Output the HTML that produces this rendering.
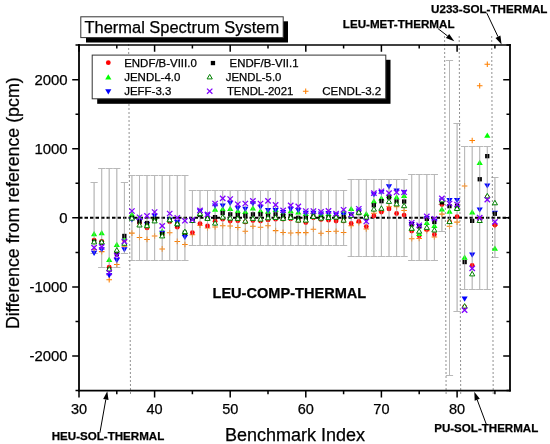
<!DOCTYPE html>
<html><head><meta charset="utf-8"><title>Thermal Spectrum System</title>
<style>html,body{margin:0;padding:0;background:#fff}body{width:550px;height:444px;overflow:hidden}svg{display:block}text{font-family:"Liberation Sans",sans-serif;fill:#000;stroke:#000;stroke-width:0.25px}</style></head><body>
<svg width="550" height="444" viewBox="0 0 550 444">
<rect width="550" height="444" fill="#fff"/>
<g stroke="#b8b8b8" stroke-width="1" fill="none">
<path d="M94.1 182.5V253.5M90.5 182.5H97.7M90.5 253.5H97.7"/>
<path d="M101.7 168.5V267.5M98.1 168.5H105.3M98.1 267.5H105.3"/>
<path d="M109.2 168.5V267.5M105.6 168.5H112.8M105.6 267.5H112.8"/>
<path d="M116.8 168.5V267.5M113.2 168.5H120.4M113.2 267.5H120.4"/>
<path d="M124.4 182.5V253.5M120.8 182.5H128.0M120.8 253.5H128.0"/>
<path d="M131.9 175.5V260.5M128.3 175.5H135.5M128.3 260.5H135.5"/>
<path d="M139.5 175.5V260.5M135.9 175.5H143.1M135.9 260.5H143.1"/>
<path d="M147.0 175.5V260.5M143.4 175.5H150.6M143.4 260.5H150.6"/>
<path d="M154.6 175.5V260.5M151.0 175.5H158.2M151.0 260.5H158.2"/>
<path d="M162.2 175.5V260.5M158.6 175.5H165.8M158.6 260.5H165.8"/>
<path d="M169.7 175.5V260.5M166.1 175.5H173.3M166.1 260.5H173.3"/>
<path d="M177.3 175.5V260.5M173.7 175.5H180.9M173.7 260.5H180.9"/>
<path d="M184.9 175.5V260.5M181.3 175.5H188.5M181.3 260.5H188.5"/>
<path d="M192.4 190.5V245.5M188.8 190.5H196.0M188.8 245.5H196.0"/>
<path d="M200.0 190.5V245.5M196.4 190.5H203.6M196.4 245.5H203.6"/>
<path d="M207.5 190.5V245.5M203.9 190.5H211.1M203.9 245.5H211.1"/>
<path d="M215.1 190.5V245.5M211.5 190.5H218.7M211.5 245.5H218.7"/>
<path d="M222.7 190.5V245.5M219.1 190.5H226.3M219.1 245.5H226.3"/>
<path d="M230.2 190.5V245.5M226.6 190.5H233.8M226.6 245.5H233.8"/>
<path d="M237.8 190.5V245.5M234.2 190.5H241.4M234.2 245.5H241.4"/>
<path d="M245.3 190.5V245.5M241.7 190.5H248.9M241.7 245.5H248.9"/>
<path d="M252.9 190.5V245.5M249.3 190.5H256.5M249.3 245.5H256.5"/>
<path d="M260.5 190.5V245.5M256.9 190.5H264.1M256.9 245.5H264.1"/>
<path d="M268.0 190.5V245.5M264.4 190.5H271.6M264.4 245.5H271.6"/>
<path d="M275.6 190.5V245.5M272.0 190.5H279.2M272.0 245.5H279.2"/>
<path d="M283.1 190.5V245.5M279.5 190.5H286.7M279.5 245.5H286.7"/>
<path d="M290.7 190.5V245.5M287.1 190.5H294.3M287.1 245.5H294.3"/>
<path d="M298.3 190.5V245.5M294.7 190.5H301.9M294.7 245.5H301.9"/>
<path d="M305.8 190.5V245.5M302.2 190.5H309.4M302.2 245.5H309.4"/>
<path d="M313.4 190.5V245.5M309.8 190.5H317.0M309.8 245.5H317.0"/>
<path d="M321.0 190.5V245.5M317.4 190.5H324.6M317.4 245.5H324.6"/>
<path d="M328.5 190.5V245.5M324.9 190.5H332.1M324.9 245.5H332.1"/>
<path d="M336.1 190.5V245.5M332.5 190.5H339.7M332.5 245.5H339.7"/>
<path d="M343.6 190.5V245.5M340.0 190.5H347.2M340.0 245.5H347.2"/>
<path d="M351.2 179.5V256.5M347.6 179.5H354.8M347.6 256.5H354.8"/>
<path d="M358.8 179.5V256.5M355.2 179.5H362.4M355.2 256.5H362.4"/>
<path d="M366.3 179.5V256.5M362.7 179.5H369.9M362.7 256.5H369.9"/>
<path d="M373.9 179.5V256.5M370.3 179.5H377.5M370.3 256.5H377.5"/>
<path d="M381.4 179.5V256.5M377.8 179.5H385.0M377.8 256.5H385.0"/>
<path d="M389.0 179.5V256.5M385.4 179.5H392.6M385.4 256.5H392.6"/>
<path d="M396.6 179.5V256.5M393.0 179.5H400.2M393.0 256.5H400.2"/>
<path d="M404.1 179.5V256.5M400.5 179.5H407.7M400.5 256.5H407.7"/>
<path d="M411.7 174.5V260.5M408.1 174.5H415.3M408.1 260.5H415.3"/>
<path d="M419.2 174.5V260.5M415.6 174.5H422.8M415.6 260.5H422.8"/>
<path d="M426.8 174.5V260.5M423.2 174.5H430.4M423.2 260.5H430.4"/>
<path d="M434.4 174.5V260.5M430.8 174.5H438.0M430.8 260.5H438.0"/>
<path d="M441.9 204.5V231.5M438.3 204.5H445.5M438.3 231.5H445.5"/>
<path d="M449.5 60.5V375.5M445.9 60.5H453.1M445.9 375.5H453.1"/>
<path d="M457.1 123.5V311.5M453.4 123.5H460.7M453.4 311.5H460.7"/>
<path d="M464.6 146.5V289.5M461.0 146.5H468.2M461.0 289.5H468.2"/>
<path d="M472.2 146.5V289.5M468.6 146.5H475.8M468.6 289.5H475.8"/>
<path d="M479.7 146.5V289.5M476.1 146.5H483.3M476.1 289.5H483.3"/>
<path d="M487.3 146.5V289.5M483.7 146.5H490.9M483.7 289.5H490.9"/>
<path d="M494.9 177.5V257.5M491.3 177.5H498.5M491.3 257.5H498.5"/>
</g>
<g stroke="#909090" stroke-width="1" stroke-dasharray="2 2" fill="none">
<line x1="128.6" y1="36" x2="130.5" y2="394"/>
<line x1="444.6" y1="36" x2="446.1" y2="394"/>
<line x1="459.2" y1="36" x2="460.7" y2="394"/>
<line x1="491.7" y1="36" x2="493.2" y2="394"/>
</g>
<line x1="79.0" y1="217.85" x2="510.0" y2="217.85" stroke="#000" stroke-width="2" stroke-dasharray="3.5 2"/>
<g>
<path d="M91.3 249.4H96.9M94.1 246.6V252.2" stroke="#ff8000" stroke-width="1.05" fill="none"/>
<path d="M98.9 251.6H104.5M101.7 248.8V254.4" stroke="#ff8000" stroke-width="1.05" fill="none"/>
<path d="M106.4 279.7H112.0M109.2 276.9V282.5" stroke="#ff8000" stroke-width="1.05" fill="none"/>
<path d="M114.0 264.4H119.6M116.8 261.6V267.2" stroke="#ff8000" stroke-width="1.05" fill="none"/>
<path d="M121.6 246.8H127.2M124.4 244.0V249.6" stroke="#ff8000" stroke-width="1.05" fill="none"/>
<path d="M129.1 233.1H134.7M131.9 230.3V235.9" stroke="#ff8000" stroke-width="1.05" fill="none"/>
<path d="M136.7 237.4H142.3M139.5 234.6V240.2" stroke="#ff8000" stroke-width="1.05" fill="none"/>
<path d="M144.2 239.4H149.8M147.0 236.6V242.2" stroke="#ff8000" stroke-width="1.05" fill="none"/>
<path d="M151.8 236.0H157.4M154.6 233.2V238.8" stroke="#ff8000" stroke-width="1.05" fill="none"/>
<path d="M159.4 248.9H165.0M162.2 246.1V251.7" stroke="#ff8000" stroke-width="1.05" fill="none"/>
<path d="M166.9 232.7H172.5M169.7 229.9V235.5" stroke="#ff8000" stroke-width="1.05" fill="none"/>
<path d="M174.5 241.4H180.1M177.3 238.6V244.2" stroke="#ff8000" stroke-width="1.05" fill="none"/>
<path d="M182.1 244.5H187.7M184.9 241.7V247.3" stroke="#ff8000" stroke-width="1.05" fill="none"/>
<path d="M189.6 234.7H195.2M192.4 231.9V237.5" stroke="#ff8000" stroke-width="1.05" fill="none"/>
<path d="M197.2 225.2H202.8M200.0 222.4V228.0" stroke="#ff8000" stroke-width="1.05" fill="none"/>
<path d="M204.7 227.9H210.3M207.5 225.1V230.7" stroke="#ff8000" stroke-width="1.05" fill="none"/>
<path d="M212.3 227.0H217.9M215.1 224.2V229.8" stroke="#ff8000" stroke-width="1.05" fill="none"/>
<path d="M219.9 225.7H225.5M222.7 222.9V228.5" stroke="#ff8000" stroke-width="1.05" fill="none"/>
<path d="M227.4 225.9H233.0M230.2 223.1V228.7" stroke="#ff8000" stroke-width="1.05" fill="none"/>
<path d="M235.0 227.5H240.6M237.8 224.7V230.3" stroke="#ff8000" stroke-width="1.05" fill="none"/>
<path d="M242.5 231.3H248.1M245.3 228.5V234.1" stroke="#ff8000" stroke-width="1.05" fill="none"/>
<path d="M250.1 226.3H255.7M252.9 223.5V229.1" stroke="#ff8000" stroke-width="1.05" fill="none"/>
<path d="M257.7 227.2H263.3M260.5 224.4V230.0" stroke="#ff8000" stroke-width="1.05" fill="none"/>
<path d="M265.2 225.7H270.8M268.0 222.9V228.5" stroke="#ff8000" stroke-width="1.05" fill="none"/>
<path d="M272.8 230.6H278.4M275.6 227.8V233.4" stroke="#ff8000" stroke-width="1.05" fill="none"/>
<path d="M280.3 232.4H285.9M283.1 229.6V235.2" stroke="#ff8000" stroke-width="1.05" fill="none"/>
<path d="M287.9 232.9H293.5M290.7 230.1V235.7" stroke="#ff8000" stroke-width="1.05" fill="none"/>
<path d="M295.5 232.6H301.1M298.3 229.8V235.4" stroke="#ff8000" stroke-width="1.05" fill="none"/>
<path d="M303.0 232.6H308.6M305.8 229.8V235.4" stroke="#ff8000" stroke-width="1.05" fill="none"/>
<path d="M310.6 229.3H316.2M313.4 226.5V232.1" stroke="#ff8000" stroke-width="1.05" fill="none"/>
<path d="M318.2 233.3H323.8M321.0 230.5V236.1" stroke="#ff8000" stroke-width="1.05" fill="none"/>
<path d="M325.7 231.5H331.3M328.5 228.7V234.3" stroke="#ff8000" stroke-width="1.05" fill="none"/>
<path d="M333.3 231.3H338.9M336.1 228.5V234.1" stroke="#ff8000" stroke-width="1.05" fill="none"/>
<path d="M340.8 232.4H346.4M343.6 229.6V235.2" stroke="#ff8000" stroke-width="1.05" fill="none"/>
<path d="M348.4 225.7H354.0M351.2 222.9V228.5" stroke="#ff8000" stroke-width="1.05" fill="none"/>
<path d="M356.0 222.6H361.6M358.8 219.8V225.4" stroke="#ff8000" stroke-width="1.05" fill="none"/>
<path d="M363.5 228.9H369.1M366.3 226.1V231.7" stroke="#ff8000" stroke-width="1.05" fill="none"/>
<path d="M371.1 213.2H376.7M373.9 210.4V216.0" stroke="#ff8000" stroke-width="1.05" fill="none"/>
<path d="M378.6 211.6H384.2M381.4 208.8V214.4" stroke="#ff8000" stroke-width="1.05" fill="none"/>
<path d="M386.2 206.7H391.8M389.0 203.9V209.5" stroke="#ff8000" stroke-width="1.05" fill="none"/>
<path d="M393.8 206.7H399.4M396.6 203.9V209.5" stroke="#ff8000" stroke-width="1.05" fill="none"/>
<path d="M401.3 210.5H406.9M404.1 207.7V213.3" stroke="#ff8000" stroke-width="1.05" fill="none"/>
<path d="M408.9 238.8H414.5M411.7 236.0V241.6" stroke="#ff8000" stroke-width="1.05" fill="none"/>
<path d="M416.4 238.4H422.0M419.2 235.6V241.2" stroke="#ff8000" stroke-width="1.05" fill="none"/>
<path d="M424.0 230.6H429.6M426.8 227.8V233.4" stroke="#ff8000" stroke-width="1.05" fill="none"/>
<path d="M431.6 237.0H437.2M434.4 234.2V239.8" stroke="#ff8000" stroke-width="1.05" fill="none"/>
<path d="M439.1 214.1H444.7M441.9 211.3V216.9" stroke="#ff8000" stroke-width="1.05" fill="none"/>
<path d="M446.7 226.3H452.3M449.5 223.5V229.1" stroke="#ff8000" stroke-width="1.05" fill="none"/>
<path d="M454.2 222.1H459.9M457.1 219.3V224.9" stroke="#ff8000" stroke-width="1.05" fill="none"/>
<path d="M461.8 185.9H467.4M464.6 183.1V188.7" stroke="#ff8000" stroke-width="1.05" fill="none"/>
<path d="M469.4 140.5H475.0M472.2 137.7V143.3" stroke="#ff8000" stroke-width="1.05" fill="none"/>
<path d="M476.9 85.7H482.5M479.7 82.9V88.5" stroke="#ff8000" stroke-width="1.05" fill="none"/>
<path d="M484.5 64.2H490.1M487.3 61.4V67.0" stroke="#ff8000" stroke-width="1.05" fill="none"/>
<path d="M492.1 225.5H497.7M494.9 222.7V228.3" stroke="#ff8000" stroke-width="1.05" fill="none"/>
</g>
<g>
<circle cx="94.1" cy="240.1" r="2.4" fill="#f00"/>
<circle cx="101.7" cy="241.3" r="2.4" fill="#f00"/>
<circle cx="109.2" cy="267.1" r="2.4" fill="#f00"/>
<circle cx="116.8" cy="252.9" r="2.4" fill="#f00"/>
<circle cx="124.4" cy="240.0" r="2.4" fill="#f00"/>
<circle cx="131.9" cy="217.5" r="2.4" fill="#f00"/>
<circle cx="139.5" cy="223.0" r="2.4" fill="#f00"/>
<circle cx="147.0" cy="227.9" r="2.4" fill="#f00"/>
<circle cx="154.6" cy="219.6" r="2.4" fill="#f00"/>
<circle cx="162.2" cy="234.8" r="2.4" fill="#f00"/>
<circle cx="169.7" cy="221.7" r="2.4" fill="#f00"/>
<circle cx="177.3" cy="227.2" r="2.4" fill="#f00"/>
<circle cx="184.9" cy="234.1" r="2.4" fill="#f00"/>
<circle cx="192.4" cy="232.6" r="2.4" fill="#f00"/>
<circle cx="200.0" cy="223.6" r="2.4" fill="#f00"/>
<circle cx="207.5" cy="225.9" r="2.4" fill="#f00"/>
<circle cx="215.1" cy="221.2" r="2.4" fill="#f00"/>
<circle cx="222.7" cy="219.2" r="2.4" fill="#f00"/>
<circle cx="230.2" cy="221.0" r="2.4" fill="#f00"/>
<circle cx="237.8" cy="220.8" r="2.4" fill="#f00"/>
<circle cx="245.3" cy="222.0" r="2.4" fill="#f00"/>
<circle cx="252.9" cy="220.6" r="2.4" fill="#f00"/>
<circle cx="260.5" cy="221.0" r="2.4" fill="#f00"/>
<circle cx="268.0" cy="219.9" r="2.4" fill="#f00"/>
<circle cx="275.6" cy="219.2" r="2.4" fill="#f00"/>
<circle cx="283.1" cy="219.2" r="2.4" fill="#f00"/>
<circle cx="290.7" cy="218.9" r="2.4" fill="#f00"/>
<circle cx="298.3" cy="220.6" r="2.4" fill="#f00"/>
<circle cx="305.8" cy="222.5" r="2.4" fill="#f00"/>
<circle cx="313.4" cy="217.8" r="2.4" fill="#f00"/>
<circle cx="321.0" cy="219.6" r="2.4" fill="#f00"/>
<circle cx="328.5" cy="220.2" r="2.4" fill="#f00"/>
<circle cx="336.1" cy="221.0" r="2.4" fill="#f00"/>
<circle cx="343.6" cy="221.0" r="2.4" fill="#f00"/>
<circle cx="351.2" cy="223.4" r="2.4" fill="#f00"/>
<circle cx="358.8" cy="221.3" r="2.4" fill="#f00"/>
<circle cx="366.3" cy="226.6" r="2.4" fill="#f00"/>
<circle cx="373.9" cy="216.0" r="2.4" fill="#f00"/>
<circle cx="381.4" cy="212.0" r="2.4" fill="#f00"/>
<circle cx="389.0" cy="208.9" r="2.4" fill="#f00"/>
<circle cx="396.6" cy="213.5" r="2.4" fill="#f00"/>
<circle cx="404.1" cy="215.1" r="2.4" fill="#f00"/>
<circle cx="411.7" cy="231.0" r="2.4" fill="#f00"/>
<circle cx="419.2" cy="235.8" r="2.4" fill="#f00"/>
<circle cx="426.8" cy="229.6" r="2.4" fill="#f00"/>
<circle cx="434.4" cy="234.4" r="2.4" fill="#f00"/>
<circle cx="441.9" cy="204.6" r="2.4" fill="#f00"/>
<circle cx="449.5" cy="221.7" r="2.4" fill="#f00"/>
<circle cx="457.1" cy="216.6" r="2.4" fill="#f00"/>
<circle cx="464.6" cy="306.8" r="2.4" fill="#f00"/>
<circle cx="472.2" cy="265.4" r="2.4" fill="#f00"/>
<circle cx="479.7" cy="219.2" r="2.4" fill="#f00"/>
<circle cx="487.3" cy="197.1" r="2.4" fill="#f00"/>
<circle cx="494.9" cy="225.1" r="2.4" fill="#f00"/>
</g>
<g>
<path d="M94.1 231.0L97.2 236.2H91.0Z" fill="#0f0"/>
<path d="M101.7 230.1L104.8 235.3H98.6Z" fill="#0f0"/>
<path d="M109.2 256.7L112.3 261.9H106.1Z" fill="#0f0"/>
<path d="M116.8 241.8L119.9 247.0H113.7Z" fill="#0f0"/>
<path d="M124.4 235.0L127.5 240.2H121.3Z" fill="#0f0"/>
<path d="M131.9 211.4L135.0 216.6H128.8Z" fill="#0f0"/>
<path d="M139.5 214.2L142.6 219.4H136.4Z" fill="#0f0"/>
<path d="M147.0 221.4L150.1 226.6H143.9Z" fill="#0f0"/>
<path d="M154.6 214.5L157.7 219.7H151.5Z" fill="#0f0"/>
<path d="M162.2 228.3L165.3 233.5H159.1Z" fill="#0f0"/>
<path d="M169.7 216.9L172.8 222.1H166.6Z" fill="#0f0"/>
<path d="M177.3 220.0L180.4 225.2H174.2Z" fill="#0f0"/>
<path d="M184.9 230.4L188.0 235.6H181.8Z" fill="#0f0"/>
<path d="M192.4 217.6L195.5 222.8H189.3Z" fill="#0f0"/>
<path d="M200.0 210.7L203.1 215.9H196.9Z" fill="#0f0"/>
<path d="M207.5 214.8L210.6 220.0H204.4Z" fill="#0f0"/>
<path d="M215.1 206.6L218.2 211.8H212.0Z" fill="#0f0"/>
<path d="M222.7 206.0L225.8 211.2H219.6Z" fill="#0f0"/>
<path d="M230.2 205.7L233.3 210.9H227.1Z" fill="#0f0"/>
<path d="M237.8 208.0L240.9 213.2H234.7Z" fill="#0f0"/>
<path d="M245.3 208.7L248.4 213.9H242.2Z" fill="#0f0"/>
<path d="M252.9 205.3L256.0 210.5H249.8Z" fill="#0f0"/>
<path d="M260.5 208.0L263.6 213.2H257.4Z" fill="#0f0"/>
<path d="M268.0 208.6L271.1 213.8H264.9Z" fill="#0f0"/>
<path d="M275.6 206.9L278.7 212.1H272.5Z" fill="#0f0"/>
<path d="M283.1 210.0L286.2 215.2H280.0Z" fill="#0f0"/>
<path d="M290.7 208.0L293.8 213.2H287.6Z" fill="#0f0"/>
<path d="M298.3 209.3L301.4 214.5H295.2Z" fill="#0f0"/>
<path d="M305.8 210.7L308.9 215.9H302.7Z" fill="#0f0"/>
<path d="M313.4 208.7L316.5 213.9H310.3Z" fill="#0f0"/>
<path d="M321.0 211.4L324.1 216.6H317.9Z" fill="#0f0"/>
<path d="M328.5 210.7L331.6 215.9H325.4Z" fill="#0f0"/>
<path d="M336.1 212.1L339.2 217.3H333.0Z" fill="#0f0"/>
<path d="M343.6 209.3L346.7 214.5H340.5Z" fill="#0f0"/>
<path d="M351.2 205.9L354.3 211.1H348.1Z" fill="#0f0"/>
<path d="M358.8 209.3L361.9 214.5H355.7Z" fill="#0f0"/>
<path d="M366.3 210.9L369.4 216.1H363.2Z" fill="#0f0"/>
<path d="M373.9 198.3L377.0 203.5H370.8Z" fill="#0f0"/>
<path d="M381.4 195.2L384.5 200.4H378.3Z" fill="#0f0"/>
<path d="M389.0 192.7L392.1 197.9H385.9Z" fill="#0f0"/>
<path d="M396.6 194.3L399.7 199.5H393.5Z" fill="#0f0"/>
<path d="M404.1 192.7L407.2 197.9H401.0Z" fill="#0f0"/>
<path d="M411.7 225.2L414.8 230.4H408.6Z" fill="#0f0"/>
<path d="M419.2 230.8L422.3 236.0H416.1Z" fill="#0f0"/>
<path d="M426.8 219.8L429.9 225.0H423.7Z" fill="#0f0"/>
<path d="M434.4 222.8L437.5 228.0H431.3Z" fill="#0f0"/>
<path d="M441.9 206.4L445.0 211.6H438.8Z" fill="#0f0"/>
<path d="M449.5 208.6L452.6 213.8H446.4Z" fill="#0f0"/>
<path d="M457.1 204.5L460.2 209.7H453.9Z" fill="#0f0"/>
<path d="M464.6 254.5L467.7 259.7H461.5Z" fill="#0f0"/>
<path d="M472.2 209.3L475.3 214.5H469.1Z" fill="#0f0"/>
<path d="M479.7 159.8L482.8 165.0H476.6Z" fill="#0f0"/>
<path d="M487.3 132.6L490.4 137.8H484.2Z" fill="#0f0"/>
<path d="M494.9 245.5L498.0 250.7H491.8Z" fill="#0f0"/>
</g>
<g>
<path d="M94.1 255.9L97.2 250.7H91.0Z" fill="#00f"/>
<path d="M101.7 252.5L104.8 247.3H98.6Z" fill="#00f"/>
<path d="M109.2 278.2L112.3 273.0H106.1Z" fill="#00f"/>
<path d="M116.8 263.3L119.9 258.1H113.7Z" fill="#00f"/>
<path d="M124.4 252.5L127.5 247.3H121.3Z" fill="#00f"/>
<path d="M131.9 222.6L135.0 217.4H128.8Z" fill="#00f"/>
<path d="M139.5 224.3L142.6 219.1H136.4Z" fill="#00f"/>
<path d="M147.0 227.1L150.1 221.9H143.9Z" fill="#00f"/>
<path d="M154.6 218.8L157.7 213.6H151.5Z" fill="#00f"/>
<path d="M162.2 236.0L165.3 230.8H159.1Z" fill="#00f"/>
<path d="M169.7 222.6L172.8 217.4H166.6Z" fill="#00f"/>
<path d="M177.3 225.3L180.4 220.1H174.2Z" fill="#00f"/>
<path d="M184.9 240.1L188.0 234.9H181.8Z" fill="#00f"/>
<path d="M192.4 223.6L195.5 218.4H189.3Z" fill="#00f"/>
<path d="M200.0 213.9L203.1 208.7H196.9Z" fill="#00f"/>
<path d="M207.5 217.7L210.6 212.5H204.4Z" fill="#00f"/>
<path d="M215.1 208.6L218.2 203.4H212.0Z" fill="#00f"/>
<path d="M222.7 208.6L225.8 203.4H219.6Z" fill="#00f"/>
<path d="M230.2 205.9L233.3 200.7H227.1Z" fill="#00f"/>
<path d="M237.8 211.3L240.9 206.1H234.7Z" fill="#00f"/>
<path d="M245.3 212.0L248.4 206.8H242.2Z" fill="#00f"/>
<path d="M252.9 206.5L256.0 201.3H249.8Z" fill="#00f"/>
<path d="M260.5 209.9L263.6 204.7H257.4Z" fill="#00f"/>
<path d="M268.0 213.3L271.1 208.1H264.9Z" fill="#00f"/>
<path d="M275.6 213.3L278.7 208.1H272.5Z" fill="#00f"/>
<path d="M283.1 215.3L286.2 210.1H280.0Z" fill="#00f"/>
<path d="M290.7 212.0L293.8 206.8H287.6Z" fill="#00f"/>
<path d="M298.3 213.3L301.4 208.1H295.2Z" fill="#00f"/>
<path d="M305.8 216.0L308.9 210.8H302.7Z" fill="#00f"/>
<path d="M313.4 216.0L316.5 210.8H310.3Z" fill="#00f"/>
<path d="M321.0 216.7L324.1 211.5H317.9Z" fill="#00f"/>
<path d="M328.5 216.1L331.6 210.9H325.4Z" fill="#00f"/>
<path d="M336.1 217.7L339.2 212.5H333.0Z" fill="#00f"/>
<path d="M343.6 217.7L346.7 212.5H340.5Z" fill="#00f"/>
<path d="M351.2 217.4L354.3 212.2H348.1Z" fill="#00f"/>
<path d="M358.8 213.8L361.9 208.6H355.7Z" fill="#00f"/>
<path d="M366.3 222.9L369.4 217.7H363.2Z" fill="#00f"/>
<path d="M373.9 197.4L377.0 192.2H370.8Z" fill="#00f"/>
<path d="M381.4 195.3L384.5 190.1H378.3Z" fill="#00f"/>
<path d="M389.0 189.4L392.1 184.2H385.9Z" fill="#00f"/>
<path d="M396.6 193.6L399.7 188.4H393.5Z" fill="#00f"/>
<path d="M404.1 195.3L407.2 190.1H401.0Z" fill="#00f"/>
<path d="M411.7 227.2L414.8 222.0H408.6Z" fill="#00f"/>
<path d="M419.2 229.1L422.3 223.9H416.1Z" fill="#00f"/>
<path d="M426.8 221.4L429.9 216.2H423.7Z" fill="#00f"/>
<path d="M434.4 224.3L437.5 219.1H431.3Z" fill="#00f"/>
<path d="M441.9 203.6L445.0 198.4H438.8Z" fill="#00f"/>
<path d="M449.5 203.2L452.6 198.0H446.4Z" fill="#00f"/>
<path d="M457.1 203.2L460.2 198.0H453.9Z" fill="#00f"/>
<path d="M464.6 301.8L467.7 296.6H461.5Z" fill="#00f"/>
<path d="M472.2 257.8L475.3 252.6H469.1Z" fill="#00f"/>
<path d="M479.7 212.6L482.8 207.4H476.6Z" fill="#00f"/>
<path d="M487.3 188.6L490.4 183.4H484.2Z" fill="#00f"/>
<path d="M494.9 215.9L498.0 210.7H491.8Z" fill="#00f"/>
</g>
<g>
<rect x="92.0" y="239.5" width="4.3" height="4.3" fill="#000"/>
<rect x="99.5" y="240.6" width="4.3" height="4.3" fill="#000"/>
<rect x="107.1" y="267.5" width="4.3" height="4.3" fill="#000"/>
<rect x="114.7" y="251.6" width="4.3" height="4.3" fill="#000"/>
<rect x="122.2" y="233.8" width="4.3" height="4.3" fill="#000"/>
<rect x="129.8" y="215.7" width="4.3" height="4.3" fill="#000"/>
<rect x="137.3" y="219.5" width="4.3" height="4.3" fill="#000"/>
<rect x="144.9" y="220.9" width="4.3" height="4.3" fill="#000"/>
<rect x="152.5" y="216.7" width="4.3" height="4.3" fill="#000"/>
<rect x="160.0" y="231.9" width="4.3" height="4.3" fill="#000"/>
<rect x="167.6" y="218.1" width="4.3" height="4.3" fill="#000"/>
<rect x="175.1" y="222.3" width="4.3" height="4.3" fill="#000"/>
<rect x="182.7" y="230.6" width="4.3" height="4.3" fill="#000"/>
<rect x="190.3" y="217.8" width="4.3" height="4.3" fill="#000"/>
<rect x="197.8" y="212.9" width="4.3" height="4.3" fill="#000"/>
<rect x="205.4" y="216.4" width="4.3" height="4.3" fill="#000"/>
<rect x="212.9" y="215.0" width="4.3" height="4.3" fill="#000"/>
<rect x="220.5" y="210.9" width="4.3" height="4.3" fill="#000"/>
<rect x="228.1" y="212.2" width="4.3" height="4.3" fill="#000"/>
<rect x="235.6" y="212.9" width="4.3" height="4.3" fill="#000"/>
<rect x="243.2" y="213.6" width="4.3" height="4.3" fill="#000"/>
<rect x="250.8" y="212.2" width="4.3" height="4.3" fill="#000"/>
<rect x="258.3" y="212.2" width="4.3" height="4.3" fill="#000"/>
<rect x="265.9" y="213.6" width="4.3" height="4.3" fill="#000"/>
<rect x="273.4" y="212.2" width="4.3" height="4.3" fill="#000"/>
<rect x="281.0" y="213.6" width="4.3" height="4.3" fill="#000"/>
<rect x="288.6" y="213.6" width="4.3" height="4.3" fill="#000"/>
<rect x="296.1" y="215.7" width="4.3" height="4.3" fill="#000"/>
<rect x="303.7" y="215.7" width="4.3" height="4.3" fill="#000"/>
<rect x="311.2" y="214.3" width="4.3" height="4.3" fill="#000"/>
<rect x="318.8" y="215.7" width="4.3" height="4.3" fill="#000"/>
<rect x="326.4" y="215.4" width="4.3" height="4.3" fill="#000"/>
<rect x="333.9" y="215.0" width="4.3" height="4.3" fill="#000"/>
<rect x="341.5" y="215.0" width="4.3" height="4.3" fill="#000"/>
<rect x="349.0" y="213.6" width="4.3" height="4.3" fill="#000"/>
<rect x="356.6" y="210.9" width="4.3" height="4.3" fill="#000"/>
<rect x="364.2" y="215.7" width="4.3" height="4.3" fill="#000"/>
<rect x="371.7" y="203.1" width="4.3" height="4.3" fill="#000"/>
<rect x="379.3" y="199.0" width="4.3" height="4.3" fill="#000"/>
<rect x="386.9" y="195.2" width="4.3" height="4.3" fill="#000"/>
<rect x="394.4" y="199.4" width="4.3" height="4.3" fill="#000"/>
<rect x="402.0" y="199.4" width="4.3" height="4.3" fill="#000"/>
<rect x="409.5" y="222.3" width="4.3" height="4.3" fill="#000"/>
<rect x="417.1" y="224.3" width="4.3" height="4.3" fill="#000"/>
<rect x="424.7" y="216.7" width="4.3" height="4.3" fill="#000"/>
<rect x="432.2" y="219.8" width="4.3" height="4.3" fill="#000"/>
<rect x="439.8" y="200.2" width="4.3" height="4.3" fill="#000"/>
<rect x="447.3" y="204.0" width="4.3" height="4.3" fill="#000"/>
<rect x="454.9" y="203.6" width="4.3" height="4.3" fill="#000"/>
<rect x="462.5" y="259.9" width="4.3" height="4.3" fill="#000"/>
<rect x="470.0" y="218.7" width="4.3" height="4.3" fill="#000"/>
<rect x="477.6" y="177.1" width="4.3" height="4.3" fill="#000"/>
<rect x="485.1" y="154.0" width="4.3" height="4.3" fill="#000"/>
<rect x="492.7" y="211.6" width="4.3" height="4.3" fill="#000"/>
</g>
<g stroke="#b8b8b8" stroke-width="1" opacity="0.55">
<path d="M94.1 182.5V253.5"/>
<path d="M101.7 168.5V267.5"/>
<path d="M109.2 168.5V267.5"/>
<path d="M116.8 168.5V267.5"/>
<path d="M124.4 182.5V253.5"/>
<path d="M131.9 175.5V260.5"/>
<path d="M139.5 175.5V260.5"/>
<path d="M147.0 175.5V260.5"/>
<path d="M154.6 175.5V260.5"/>
<path d="M162.2 175.5V260.5"/>
<path d="M169.7 175.5V260.5"/>
<path d="M177.3 175.5V260.5"/>
<path d="M184.9 175.5V260.5"/>
<path d="M192.4 190.5V245.5"/>
<path d="M200.0 190.5V245.5"/>
<path d="M207.5 190.5V245.5"/>
<path d="M215.1 190.5V245.5"/>
<path d="M222.7 190.5V245.5"/>
<path d="M230.2 190.5V245.5"/>
<path d="M237.8 190.5V245.5"/>
<path d="M245.3 190.5V245.5"/>
<path d="M252.9 190.5V245.5"/>
<path d="M260.5 190.5V245.5"/>
<path d="M268.0 190.5V245.5"/>
<path d="M275.6 190.5V245.5"/>
<path d="M283.1 190.5V245.5"/>
<path d="M290.7 190.5V245.5"/>
<path d="M298.3 190.5V245.5"/>
<path d="M305.8 190.5V245.5"/>
<path d="M313.4 190.5V245.5"/>
<path d="M321.0 190.5V245.5"/>
<path d="M328.5 190.5V245.5"/>
<path d="M336.1 190.5V245.5"/>
<path d="M343.6 190.5V245.5"/>
<path d="M351.2 179.5V256.5"/>
<path d="M358.8 179.5V256.5"/>
<path d="M366.3 179.5V256.5"/>
<path d="M373.9 179.5V256.5"/>
<path d="M381.4 179.5V256.5"/>
<path d="M389.0 179.5V256.5"/>
<path d="M396.6 179.5V256.5"/>
<path d="M404.1 179.5V256.5"/>
<path d="M411.7 174.5V260.5"/>
<path d="M419.2 174.5V260.5"/>
<path d="M426.8 174.5V260.5"/>
<path d="M434.4 174.5V260.5"/>
<path d="M441.9 204.5V231.5"/>
<path d="M449.5 60.5V375.5"/>
<path d="M457.1 123.5V311.5"/>
<path d="M464.6 146.5V289.5"/>
<path d="M472.2 146.5V289.5"/>
<path d="M479.7 146.5V289.5"/>
<path d="M487.3 146.5V289.5"/>
<path d="M494.9 177.5V257.5"/>
</g>
<g>
<path d="M94.1 239.4L96.7 243.9H91.5Z" fill="#fff" stroke="#008000" stroke-width="1"/>
<path d="M101.7 239.4L104.3 243.9H99.1Z" fill="#fff" stroke="#008000" stroke-width="1"/>
<path d="M109.2 266.5L111.8 271.0H106.6Z" fill="#fff" stroke="#008000" stroke-width="1"/>
<path d="M116.8 247.6L119.4 252.1H114.2Z" fill="#fff" stroke="#008000" stroke-width="1"/>
<path d="M124.4 240.8L127.0 245.3H121.8Z" fill="#fff" stroke="#008000" stroke-width="1"/>
<path d="M131.9 215.6L134.5 220.1H129.3Z" fill="#fff" stroke="#008000" stroke-width="1"/>
<path d="M139.5 222.5L142.1 227.0H136.9Z" fill="#fff" stroke="#008000" stroke-width="1"/>
<path d="M147.0 223.2L149.6 227.7H144.4Z" fill="#fff" stroke="#008000" stroke-width="1"/>
<path d="M154.6 218.4L157.2 222.9H152.0Z" fill="#fff" stroke="#008000" stroke-width="1"/>
<path d="M162.2 233.4L164.8 237.9H159.6Z" fill="#fff" stroke="#008000" stroke-width="1"/>
<path d="M169.7 217.3L172.3 221.8H167.1Z" fill="#fff" stroke="#008000" stroke-width="1"/>
<path d="M177.3 221.3L179.9 225.8H174.7Z" fill="#fff" stroke="#008000" stroke-width="1"/>
<path d="M184.9 229.1L187.5 233.6H182.3Z" fill="#fff" stroke="#008000" stroke-width="1"/>
<path d="M192.4 218.0L195.0 222.5H189.8Z" fill="#fff" stroke="#008000" stroke-width="1"/>
<path d="M200.0 211.1L202.6 215.6H197.4Z" fill="#fff" stroke="#008000" stroke-width="1"/>
<path d="M207.5 215.9L210.1 220.4H204.9Z" fill="#fff" stroke="#008000" stroke-width="1"/>
<path d="M215.1 220.6L217.7 225.1H212.5Z" fill="#fff" stroke="#008000" stroke-width="1"/>
<path d="M222.7 214.6L225.3 219.1H220.1Z" fill="#fff" stroke="#008000" stroke-width="1"/>
<path d="M230.2 215.6L232.8 220.1H227.6Z" fill="#fff" stroke="#008000" stroke-width="1"/>
<path d="M237.8 215.9L240.4 220.4H235.2Z" fill="#fff" stroke="#008000" stroke-width="1"/>
<path d="M245.3 218.6L247.9 223.1H242.7Z" fill="#fff" stroke="#008000" stroke-width="1"/>
<path d="M252.9 215.9L255.5 220.4H250.3Z" fill="#fff" stroke="#008000" stroke-width="1"/>
<path d="M260.5 216.6L263.1 221.1H257.9Z" fill="#fff" stroke="#008000" stroke-width="1"/>
<path d="M268.0 215.2L270.6 219.8H265.4Z" fill="#fff" stroke="#008000" stroke-width="1"/>
<path d="M275.6 214.9L278.2 219.4H273.0Z" fill="#fff" stroke="#008000" stroke-width="1"/>
<path d="M283.1 215.9L285.7 220.4H280.5Z" fill="#fff" stroke="#008000" stroke-width="1"/>
<path d="M290.7 214.9L293.3 219.4H288.1Z" fill="#fff" stroke="#008000" stroke-width="1"/>
<path d="M298.3 217.6L300.9 222.1H295.7Z" fill="#fff" stroke="#008000" stroke-width="1"/>
<path d="M305.8 217.6L308.4 222.1H303.2Z" fill="#fff" stroke="#008000" stroke-width="1"/>
<path d="M313.4 213.9L316.0 218.4H310.8Z" fill="#fff" stroke="#008000" stroke-width="1"/>
<path d="M321.0 215.6L323.6 220.1H318.4Z" fill="#fff" stroke="#008000" stroke-width="1"/>
<path d="M328.5 214.9L331.1 219.4H325.9Z" fill="#fff" stroke="#008000" stroke-width="1"/>
<path d="M336.1 214.6L338.7 219.1H333.5Z" fill="#fff" stroke="#008000" stroke-width="1"/>
<path d="M343.6 217.7L346.2 222.2H341.0Z" fill="#fff" stroke="#008000" stroke-width="1"/>
<path d="M351.2 212.9L353.8 217.4H348.6Z" fill="#fff" stroke="#008000" stroke-width="1"/>
<path d="M358.8 209.7L361.4 214.2H356.2Z" fill="#fff" stroke="#008000" stroke-width="1"/>
<path d="M366.3 214.5L368.9 219.0H363.7Z" fill="#fff" stroke="#008000" stroke-width="1"/>
<path d="M373.9 206.6L376.5 211.1H371.3Z" fill="#fff" stroke="#008000" stroke-width="1"/>
<path d="M381.4 205.8L384.0 210.3H378.8Z" fill="#fff" stroke="#008000" stroke-width="1"/>
<path d="M389.0 198.9L391.6 203.4H386.4Z" fill="#fff" stroke="#008000" stroke-width="1"/>
<path d="M396.6 201.4L399.2 205.9H394.0Z" fill="#fff" stroke="#008000" stroke-width="1"/>
<path d="M404.1 203.2L406.7 207.7H401.5Z" fill="#fff" stroke="#008000" stroke-width="1"/>
<path d="M411.7 225.8L414.3 230.3H409.1Z" fill="#fff" stroke="#008000" stroke-width="1"/>
<path d="M419.2 228.7L421.8 233.2H416.6Z" fill="#fff" stroke="#008000" stroke-width="1"/>
<path d="M426.8 224.9L429.4 229.4H424.2Z" fill="#fff" stroke="#008000" stroke-width="1"/>
<path d="M434.4 227.5L437.0 232.0H431.8Z" fill="#fff" stroke="#008000" stroke-width="1"/>
<path d="M441.9 197.4L444.5 201.9H439.3Z" fill="#fff" stroke="#008000" stroke-width="1"/>
<path d="M449.5 219.1L452.1 223.6H446.9Z" fill="#fff" stroke="#008000" stroke-width="1"/>
<path d="M457.1 206.0L459.7 210.5H454.4Z" fill="#fff" stroke="#008000" stroke-width="1"/>
<path d="M464.6 303.6L467.2 308.1H462.0Z" fill="#fff" stroke="#008000" stroke-width="1"/>
<path d="M472.2 271.4L474.8 275.9H469.6Z" fill="#fff" stroke="#008000" stroke-width="1"/>
<path d="M479.7 218.0L482.3 222.5H477.1Z" fill="#fff" stroke="#008000" stroke-width="1"/>
<path d="M487.3 193.4L489.9 197.9H484.7Z" fill="#fff" stroke="#008000" stroke-width="1"/>
<path d="M494.9 200.3L497.5 204.8H492.3Z" fill="#fff" stroke="#008000" stroke-width="1"/>
</g>
<g>
<path d="M91.4 245.0L96.8 250.2M91.4 250.2L96.8 245.0" stroke="#8000ff" stroke-width="1.3" fill="none"/>
<path d="M99.0 244.3L104.4 249.5M99.0 249.5L104.4 244.3" stroke="#8000ff" stroke-width="1.3" fill="none"/>
<path d="M106.5 269.9L111.9 275.1M106.5 275.1L111.9 269.9" stroke="#8000ff" stroke-width="1.3" fill="none"/>
<path d="M114.1 253.0L119.5 258.2M114.1 258.2L119.5 253.0" stroke="#8000ff" stroke-width="1.3" fill="none"/>
<path d="M121.7 238.8L127.1 244.0M121.7 244.0L127.1 238.8" stroke="#8000ff" stroke-width="1.3" fill="none"/>
<path d="M129.2 208.4L134.6 213.6M129.2 213.6L134.6 208.4" stroke="#8000ff" stroke-width="1.3" fill="none"/>
<path d="M136.8 214.6L142.2 219.8M136.8 219.8L142.2 214.6" stroke="#8000ff" stroke-width="1.3" fill="none"/>
<path d="M144.3 213.2L149.7 218.4M144.3 218.4L149.7 213.2" stroke="#8000ff" stroke-width="1.3" fill="none"/>
<path d="M151.9 209.4L157.3 214.6M151.9 214.6L157.3 209.4" stroke="#8000ff" stroke-width="1.3" fill="none"/>
<path d="M159.5 223.3L164.9 228.5M159.5 228.5L164.9 223.3" stroke="#8000ff" stroke-width="1.3" fill="none"/>
<path d="M167.0 210.9L172.4 216.1M167.0 216.1L172.4 210.9" stroke="#8000ff" stroke-width="1.3" fill="none"/>
<path d="M174.6 215.2L180.0 220.4M174.6 220.4L180.0 215.2" stroke="#8000ff" stroke-width="1.3" fill="none"/>
<path d="M182.2 218.2L187.6 223.4M182.2 223.4L187.6 218.2" stroke="#8000ff" stroke-width="1.3" fill="none"/>
<path d="M189.7 217.2L195.1 222.4M189.7 222.4L195.1 217.2" stroke="#8000ff" stroke-width="1.3" fill="none"/>
<path d="M197.3 207.8L202.7 213.0M197.3 213.0L202.7 207.8" stroke="#8000ff" stroke-width="1.3" fill="none"/>
<path d="M204.8 211.8L210.2 217.0M204.8 217.0L210.2 211.8" stroke="#8000ff" stroke-width="1.3" fill="none"/>
<path d="M212.4 200.9L217.8 206.1M212.4 206.1L217.8 200.9" stroke="#8000ff" stroke-width="1.3" fill="none"/>
<path d="M220.0 195.8L225.4 201.0M220.0 201.0L225.4 195.8" stroke="#8000ff" stroke-width="1.3" fill="none"/>
<path d="M227.5 196.4L232.9 201.6M227.5 201.6L232.9 196.4" stroke="#8000ff" stroke-width="1.3" fill="none"/>
<path d="M235.1 201.6L240.5 206.8M235.1 206.8L240.5 201.6" stroke="#8000ff" stroke-width="1.3" fill="none"/>
<path d="M242.6 200.9L248.0 206.1M242.6 206.1L248.0 200.9" stroke="#8000ff" stroke-width="1.3" fill="none"/>
<path d="M250.2 198.3L255.6 203.5M250.2 203.5L255.6 198.3" stroke="#8000ff" stroke-width="1.3" fill="none"/>
<path d="M257.8 200.9L263.2 206.1M257.8 206.1L263.2 200.9" stroke="#8000ff" stroke-width="1.3" fill="none"/>
<path d="M265.3 198.3L270.7 203.5M265.3 203.5L270.7 198.3" stroke="#8000ff" stroke-width="1.3" fill="none"/>
<path d="M272.9 202.3L278.3 207.5M272.9 207.5L278.3 202.3" stroke="#8000ff" stroke-width="1.3" fill="none"/>
<path d="M280.4 207.7L285.8 212.9M280.4 212.9L285.8 207.7" stroke="#8000ff" stroke-width="1.3" fill="none"/>
<path d="M288.0 202.7L293.4 207.9M288.0 207.9L293.4 202.7" stroke="#8000ff" stroke-width="1.3" fill="none"/>
<path d="M295.6 203.7L301.0 208.9M295.6 208.9L301.0 203.7" stroke="#8000ff" stroke-width="1.3" fill="none"/>
<path d="M303.1 208.4L308.5 213.6M303.1 213.6L308.5 208.4" stroke="#8000ff" stroke-width="1.3" fill="none"/>
<path d="M310.7 208.4L316.1 213.6M310.7 213.6L316.1 208.4" stroke="#8000ff" stroke-width="1.3" fill="none"/>
<path d="M318.3 209.1L323.7 214.3M318.3 214.3L323.7 209.1" stroke="#8000ff" stroke-width="1.3" fill="none"/>
<path d="M325.8 208.3L331.2 213.5M325.8 213.5L331.2 208.3" stroke="#8000ff" stroke-width="1.3" fill="none"/>
<path d="M333.4 211.0L338.8 216.2M333.4 216.2L338.8 211.0" stroke="#8000ff" stroke-width="1.3" fill="none"/>
<path d="M340.9 207.1L346.3 212.3M340.9 212.3L346.3 207.1" stroke="#8000ff" stroke-width="1.3" fill="none"/>
<path d="M348.5 212.1L353.9 217.3M348.5 217.3L353.9 212.1" stroke="#8000ff" stroke-width="1.3" fill="none"/>
<path d="M356.1 206.1L361.5 211.3M356.1 211.3L361.5 206.1" stroke="#8000ff" stroke-width="1.3" fill="none"/>
<path d="M363.6 218.9L369.0 224.1M363.6 224.1L369.0 218.9" stroke="#8000ff" stroke-width="1.3" fill="none"/>
<path d="M371.2 190.5L376.6 195.7M371.2 195.7L376.6 190.5" stroke="#8000ff" stroke-width="1.3" fill="none"/>
<path d="M378.7 188.6L384.1 193.8M378.7 193.8L384.1 188.6" stroke="#8000ff" stroke-width="1.3" fill="none"/>
<path d="M386.3 190.5L391.7 195.7M386.3 195.7L391.7 190.5" stroke="#8000ff" stroke-width="1.3" fill="none"/>
<path d="M393.9 189.7L399.3 194.9M393.9 194.9L399.3 189.7" stroke="#8000ff" stroke-width="1.3" fill="none"/>
<path d="M401.4 189.7L406.8 194.9M401.4 194.9L406.8 189.7" stroke="#8000ff" stroke-width="1.3" fill="none"/>
<path d="M409.0 220.1L414.4 225.3M409.0 225.3L414.4 220.1" stroke="#8000ff" stroke-width="1.3" fill="none"/>
<path d="M416.5 222.6L421.9 227.8M416.5 227.8L421.9 222.6" stroke="#8000ff" stroke-width="1.3" fill="none"/>
<path d="M424.1 213.7L429.5 218.9M424.1 218.9L429.5 213.7" stroke="#8000ff" stroke-width="1.3" fill="none"/>
<path d="M431.7 216.1L437.1 221.3M431.7 221.3L437.1 216.1" stroke="#8000ff" stroke-width="1.3" fill="none"/>
<path d="M439.2 195.8L444.6 201.0M439.2 201.0L444.6 195.8" stroke="#8000ff" stroke-width="1.3" fill="none"/>
<path d="M446.8 200.9L452.2 206.1M446.8 206.1L452.2 200.9" stroke="#8000ff" stroke-width="1.3" fill="none"/>
<path d="M454.4 201.9L459.8 207.1M454.4 207.1L459.8 201.9" stroke="#8000ff" stroke-width="1.3" fill="none"/>
<path d="M461.9 307.5L467.3 312.7M461.9 312.7L467.3 307.5" stroke="#8000ff" stroke-width="1.3" fill="none"/>
<path d="M469.5 265.8L474.9 271.0M469.5 271.0L474.9 265.8" stroke="#8000ff" stroke-width="1.3" fill="none"/>
<path d="M477.0 215.0L482.4 220.2M477.0 220.2L482.4 215.0" stroke="#8000ff" stroke-width="1.3" fill="none"/>
<path d="M484.6 197.1L490.0 202.3M484.6 202.3L490.0 197.1" stroke="#8000ff" stroke-width="1.3" fill="none"/>
<path d="M492.2 219.3L497.6 224.5M492.2 224.5L497.6 219.3" stroke="#8000ff" stroke-width="1.3" fill="none"/>
</g>
<g stroke="#000" stroke-linecap="square"><line x1="79.0" y1="44.9" x2="510.0" y2="44.9" stroke-width="1.55"/><line x1="79.0" y1="390.7" x2="510.0" y2="390.7" stroke-width="1.7"/><line x1="79.0" y1="44.9" x2="79.0" y2="390.7" stroke-width="1.8"/><line x1="510.0" y1="44.9" x2="510.0" y2="390.7" stroke-width="1.8"/></g>
<g stroke="#000" stroke-width="1.5" fill="none">
<path d="M79.0 390.7v6.8M79.0 44.9v6.8"/>
<path d="M116.8 390.7v3.5M116.8 44.9v3.5"/>
<path d="M154.6 390.7v6.8M154.6 44.9v6.8"/>
<path d="M192.4 390.7v3.5M192.4 44.9v3.5"/>
<path d="M230.2 390.7v6.8M230.2 44.9v6.8"/>
<path d="M268.0 390.7v3.5M268.0 44.9v3.5"/>
<path d="M305.8 390.7v6.8M305.8 44.9v6.8"/>
<path d="M343.6 390.7v3.5M343.6 44.9v3.5"/>
<path d="M381.4 390.7v6.8M381.4 44.9v6.8"/>
<path d="M419.2 390.7v3.5M419.2 44.9v3.5"/>
<path d="M457.1 390.7v6.8M457.1 44.9v6.8"/>
<path d="M494.9 390.7v3.5M494.9 44.9v3.5"/>
<path d="M79.0 390.6h-3.5M510.0 390.6h-3.5"/>
<path d="M79.0 356.0h-6.8M510.0 356.0h-6.8"/>
<path d="M79.0 321.5h-3.5M510.0 321.5h-3.5"/>
<path d="M79.0 286.9h-6.8M510.0 286.9h-6.8"/>
<path d="M79.0 252.4h-3.5M510.0 252.4h-3.5"/>
<path d="M79.0 217.8h-6.8M510.0 217.8h-6.8"/>
<path d="M79.0 183.3h-3.5M510.0 183.3h-3.5"/>
<path d="M79.0 148.8h-6.8M510.0 148.8h-6.8"/>
<path d="M79.0 114.2h-3.5M510.0 114.2h-3.5"/>
<path d="M79.0 79.7h-6.8M510.0 79.7h-6.8"/>
<path d="M79.0 45.1h-3.5M510.0 45.1h-3.5"/>
</g>
<g font-size="14.5" text-anchor="middle">
<text x="79.0" y="413.8">30</text>
<text x="154.6" y="413.8">40</text>
<text x="230.2" y="413.8">50</text>
<text x="305.8" y="413.8">60</text>
<text x="381.4" y="413.8">70</text>
<text x="457.1" y="413.8">80</text>
</g>
<g font-size="14.5" text-anchor="end">
<text x="67.6" y="361.0" font-size="14.5" textLength="38.1" lengthAdjust="spacingAndGlyphs">-2000</text>
<text x="67.6" y="291.9" font-size="14.5" textLength="38.1" lengthAdjust="spacingAndGlyphs">-1000</text>
<text x="67.6" y="222.8" font-size="14.5" textLength="8.3" lengthAdjust="spacingAndGlyphs">0</text>
<text x="67.6" y="153.8" font-size="14.5" textLength="33.2" lengthAdjust="spacingAndGlyphs">1000</text>
<text x="67.6" y="84.7" font-size="14.5" textLength="33.2" lengthAdjust="spacingAndGlyphs">2000</text>
</g>
<text x="295" y="441" font-size="18" text-anchor="middle">Benchmark Index</text>
<text transform="translate(18.9,203.2) rotate(-90)" font-size="17.8" text-anchor="middle">Difference from reference (pcm)</text>
<rect x="86" y="21.3" width="202" height="21.2" fill="#000"/>
<rect x="80.8" y="16.8" width="202.4" height="20.8" fill="#fff" stroke="#333" stroke-width="1"/>
<text x="84.5" y="32.6" font-size="16" textLength="194.6" lengthAdjust="spacingAndGlyphs">Thermal Spectrum System</text>
<rect x="97.2" y="59.8" width="293.3" height="44" fill="#000"/>
<rect x="92.2" y="55.1" width="293.6" height="43.7" fill="#fff" stroke="#333" stroke-width="1"/>
<circle cx="108.3" cy="62.7" r="2.4" fill="#f00"/>
<path d="M108.3 74.2L111.4 79.4H105.2Z" fill="#0f0"/>
<path d="M108.3 94.4L111.4 89.2H105.2Z" fill="#00f"/>
<rect x="210.8" y="60.9" width="4.3" height="4.3" fill="#000"/>
<path d="M209.7 74.4L212.3 78.9H207.1Z" fill="#fff" stroke="#008000" stroke-width="1"/>
<path d="M207.0 88.6L212.4 93.8M207.0 93.8L212.4 88.6" stroke="#8000ff" stroke-width="1.3" fill="none"/>
<path d="M302.9 91.2H308.5M305.7 88.4V94.0" stroke="#ff8000" stroke-width="1.05" fill="none"/>
<text x="124.2" y="66.9" font-size="11.1" textLength="72.6" lengthAdjust="spacingAndGlyphs">ENDF/B-VIII.0</text>
<text x="124.2" y="80.9" font-size="11.1" textLength="56.2" lengthAdjust="spacingAndGlyphs">JENDL-4.0</text>
<text x="124.2" y="94.8" font-size="11.1" textLength="47.2" lengthAdjust="spacingAndGlyphs">JEFF-3.3</text>
<text x="229.6" y="66.9" font-size="11.1" textLength="68.9" lengthAdjust="spacingAndGlyphs">ENDF/B-VII.1</text>
<text x="225.8" y="80.9" font-size="11.1" textLength="55.6" lengthAdjust="spacingAndGlyphs">JENDL-5.0</text>
<text x="226.9" y="94.8" font-size="11.1" textLength="66.4" lengthAdjust="spacingAndGlyphs">TENDL-2021</text>
<text x="322.2" y="94.8" font-size="11.1" textLength="59.0" lengthAdjust="spacingAndGlyphs">CENDL-3.2</text>
<g font-weight="bold" stroke="none">
<text x="212.5" y="298.0" font-size="14.4" textLength="153.7" lengthAdjust="spacingAndGlyphs">LEU-COMP-THERMAL</text>
<text x="342.8" y="28.3" font-size="11.4" textLength="111.7" lengthAdjust="spacingAndGlyphs">LEU-MET-THERMAL</text>
<text x="431.0" y="12.5" font-size="10.9" textLength="116.4" lengthAdjust="spacingAndGlyphs">U233-SOL-THERMAL</text>
<text x="434.2" y="432" font-size="11.4" textLength="104.1" lengthAdjust="spacingAndGlyphs">PU-SOL-THERMAL</text>
<text x="51.7" y="439.8" font-size="11.4" textLength="112.6" lengthAdjust="spacingAndGlyphs">HEU-SOL-THERMAL</text>
</g>
<line x1="438.1" y1="28.7" x2="447.6" y2="36.0" stroke="#000" stroke-width="1"/><path d="M454.3 41.2L445.9 38.1L449.2 33.9Z" fill="#000"/>
<line x1="486.8" y1="13.1" x2="498.0" y2="36.7" stroke="#000" stroke-width="1"/><path d="M501.6 44.4L495.5 37.9L500.4 35.6Z" fill="#000"/>
<line x1="486.4" y1="424.5" x2="477.2" y2="399.8" stroke="#000" stroke-width="1"/><path d="M474.3 391.8L479.8 398.8L474.7 400.7Z" fill="#000"/>
<line x1="99.9" y1="432.8" x2="105.8" y2="399.6" stroke="#000" stroke-width="1"/><path d="M107.3 391.2L108.5 400.0L103.2 399.1Z" fill="#000"/>
</svg></body></html>
